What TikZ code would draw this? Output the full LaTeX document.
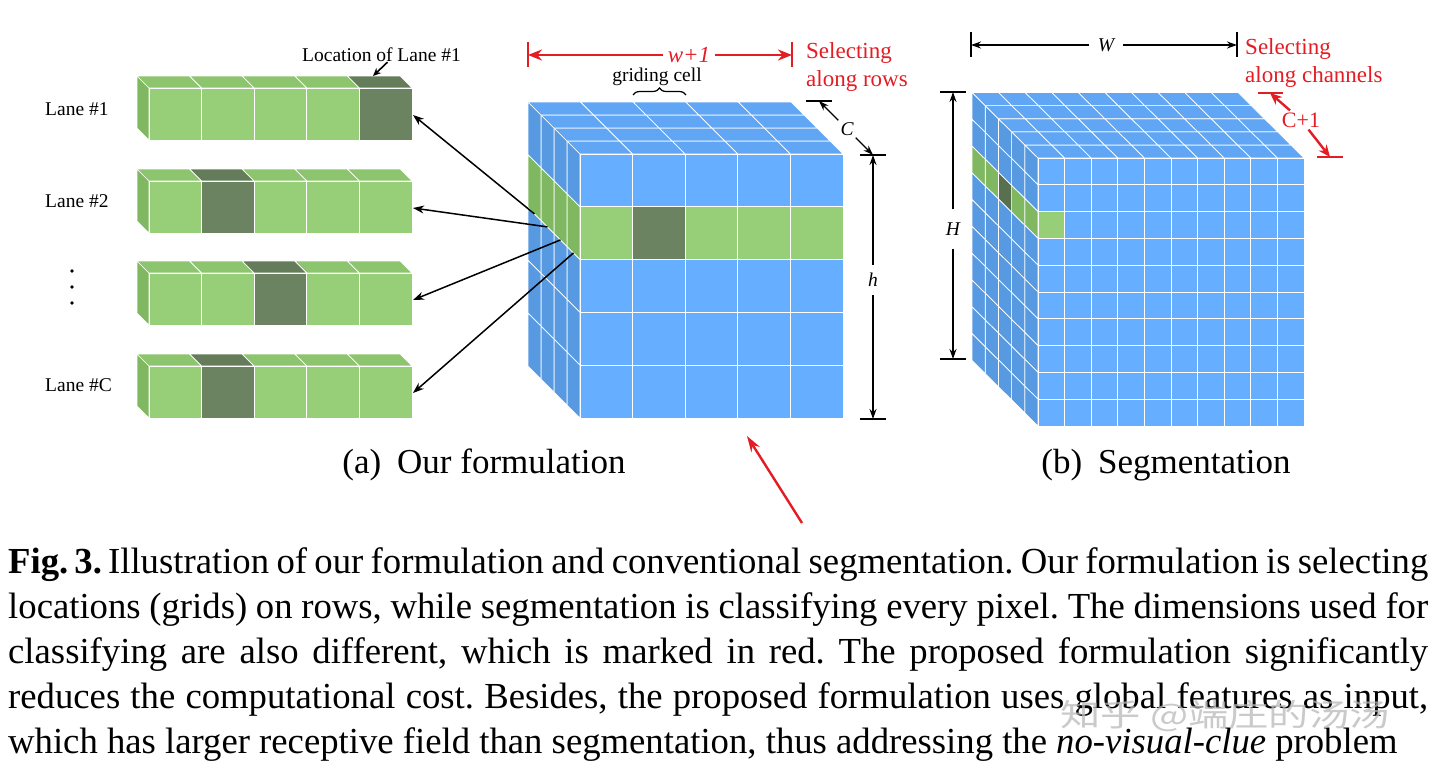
\documentclass[tikz,border=0pt]{standalone}
\usepackage{fontspec}
\setmainfont{Liberation Serif}
\newfontfamily\cjkfont{Noto Sans CJK SC}
\usetikzlibrary{arrows.meta,decorations.pathreplacing}
\definecolor{gfront}{RGB}{151,207,120}
\definecolor{gtop}{RGB}{141,196,110}
\definecolor{gside}{RGB}{128,184,98}
\definecolor{dfront}{RGB}{107,131,96}
\definecolor{dtop}{RGB}{100,124,90}
\definecolor{dside}{RGB}{88,112,80}
\definecolor{bfront}{RGB}{102,174,255}
\definecolor{btop}{RGB}{96,166,244}
\definecolor{bside}{RGB}{88,154,226}
\definecolor{red1}{RGB}{228,28,36}
\begin{document}
\begin{tikzpicture}[x=1pt,y=-1pt,
  cell/.style={draw=white, line width=0.7pt},
  conn/.style={-{Stealth[length=11pt,width=8pt]}, line width=1.5pt},
  dimk/.style={-{Stealth[length=10pt,width=7pt]}, line width=1.3pt},
  dimr/.style={red1,-{Stealth[length=14pt,width=11pt]}, line width=2.6pt},
  ktick/.style={line width=1.4pt},
  rtick/.style={red1, line width=2.6pt},
  lbl/.style={font=\fontsize{19.5}{23}\selectfont, inner sep=0pt},
  rlbl/.style={text=red1, font=\fontsize{23}{28.5}\selectfont, inner sep=0pt, align=left},
  sub/.style={font=\fontsize{35}{40}\selectfont, inner sep=0pt}]
\useasboundingbox (0,0) rectangle (1440,774);
\fill[white] (0,0) rectangle (1440,774);

% ---------- lanes ----------
\foreach \y/\dk [count=\i] in {88/4,181/1,273/2,366/1}{
  \filldraw[cell,fill=gside] (137,{\y-12}) -- (149,\y) -- (149,{\y+52}) -- (137,{\y+40}) -- cycle;
  \foreach \c in {0,...,4}{
    \ifnum\c=\dk\relax\def\fc{dfront}\def\tc{dtop}\else\def\fc{gfront}\def\tc{gtop}\fi
    \filldraw[cell,fill=\tc] ({149+\c*52.6-12},{\y-12}) -- ({149+(\c+1)*52.6-12},{\y-12}) -- ({149+(\c+1)*52.6},\y) -- ({149+\c*52.6},\y) -- cycle;
    \filldraw[cell,fill=\fc] ({149+\c*52.6},\y) rectangle ({149+(\c+1)*52.6},{\y+52});
  }
  \coordinate (lane\i) at (413,{\y+27});
}
\node[lbl,anchor=west] (lab1) at (45,109) {Lane \#1};
\node[lbl,anchor=west] (lab2) at (45,201) {Lane \#2};
\node[lbl,anchor=west] (labC) at (45,385) {Lane \#C};
\fill (72,271) circle (1.8);
\fill (72,287) circle (1.8);
\fill (72,303) circle (1.8);
\node[lbl] (loc) at (381.5,55) {Location of Lane \#1};
\coordinate (locpt) at (373,76);
\draw[-{Stealth[length=8pt,width=7pt]}, line width=1.6pt] ([xshift=6pt]loc.south) -- (locpt);

% ---------- middle cube ----------
\foreach \k in {0,...,3}{
  \foreach \r in {0,...,4}{
    \ifnum\r=1\relax\def\fc{gside}\else\def\fc{bside}\fi
    \filldraw[cell,fill=\fc] ({580-13*(\k+1)},{154+\r*52.8-13*(\k+1)}) -- ({580-13*\k},{154+\r*52.8-13*\k}) -- ({580-13*\k},{154+(\r+1)*52.8-13*\k}) -- ({580-13*(\k+1)},{154+(\r+1)*52.8-13*(\k+1)}) -- cycle;
  }
  \foreach \c in {0,...,4}{
    \filldraw[cell,fill=btop] ({580+\c*52.6-13*(\k+1)},{154-13*(\k+1)}) -- ({580+(\c+1)*52.6-13*(\k+1)},{154-13*(\k+1)}) -- ({580+(\c+1)*52.6-13*\k},{154-13*\k}) -- ({580+\c*52.6-13*\k},{154-13*\k}) -- cycle;
  }
}
\foreach \r in {0,...,4}{
  \foreach \c in {0,...,4}{
    \def\fc{bfront}
    \ifnum\r=1\relax\def\fc{gfront}\ifnum\c=1\relax\def\fc{dfront}\fi\fi
    \filldraw[cell,fill=\fc] ({580+\c*52.6},{154+\r*52.8}) rectangle ({580+(\c+1)*52.6},{154+(\r+1)*52.8});
  }
}
\coordinate (s1) at (534.5,213.9);
\coordinate (s2) at (547.5,226.9);
\coordinate (s3) at (560.5,239.9);
\coordinate (s4) at (573.5,252.9);
\draw[conn] (s1) -- (lane1);
\draw[conn] (s2) -- (lane2);
\draw[conn] (s3) -- (lane3);
\draw[conn] (s4) -- (lane4);

% griding cell
\node[lbl] (grid) at (657,77) {griding cell};
\coordinate (brl) at (633,95);
\coordinate (brr) at (686,95);
\draw[line width=1.2pt, decorate, decoration={brace, amplitude=7pt}] (brl) -- (brr);

% w+1
\node[text=red1, font=\fontsize{23}{28}\selectfont\itshape, inner sep=5pt] (wtxt) at (689,55) {w+1};
\coordinate (wl) at (528,55);
\coordinate (wr) at (792,55);
\draw[dimr] (wtxt) -- (wl);
\draw[dimr] (wtxt) -- (wr);
\draw[rtick] (528,42) -- (528,67);
\draw[rtick] (792,42) -- (792,67);
\node[rlbl,anchor=north west] (selr) at (806,42) {Selecting\\along rows};

% C and h
\node[lbl,font=\fontsize{19.5}{23}\selectfont\itshape, inner sep=2pt] (ctxt) at (847,129) {C};
\coordinate (ct) at (819,101);
\coordinate (cb) at (873,155);
\draw[dimk] (ctxt) -- (ct);
\draw[dimk] (ctxt) -- (cb);
\draw[ktick] (806,101) -- (832,101);
\draw[ktick] (860,155) -- (886,155);
\node[lbl,font=\fontsize{19.5}{23}\selectfont\itshape, inner sep=8pt] (htxt) at (873,280) {h};
\coordinate (hb) at (873,419);
\draw[dimk] (htxt) -- (cb);
\draw[dimk] (htxt) -- (hb);
\draw[ktick] (860,419) -- (886,419);

% red annotation arrow
\coordinate (ra1) at (802,523);
\coordinate (ra2) at (747,436);
\draw[red1, line width=2.4pt, -{Stealth[length=16pt,width=10pt]}] (ra1) -- (ra2);

% ---------- right cube ----------
\foreach \k in {0,...,4}{
  \foreach \r in {0,...,9}{
    \def\fc{bside}
    \ifnum\r=2\relax\def\fc{gside}\ifnum\k=2\relax\def\fc{dside}\fi\fi
    \filldraw[cell,fill=\fc] ({1038-13.2*(\k+1)},{158+\r*26.8-13.1*(\k+1)}) -- ({1038-13.2*\k},{158+\r*26.8-13.1*\k}) -- ({1038-13.2*\k},{158+(\r+1)*26.8-13.1*\k}) -- ({1038-13.2*(\k+1)},{158+(\r+1)*26.8-13.1*(\k+1)}) -- cycle;
  }
  \foreach \c in {0,...,9}{
    \filldraw[cell,fill=btop] ({1038+\c*26.6-13.2*(\k+1)},{158-13.1*(\k+1)}) -- ({1038+(\c+1)*26.6-13.2*(\k+1)},{158-13.1*(\k+1)}) -- ({1038+(\c+1)*26.6-13.2*\k},{158-13.1*\k}) -- ({1038+\c*26.6-13.2*\k},{158-13.1*\k}) -- cycle;
  }
}
\foreach \r in {0,...,9}{
  \foreach \c in {0,...,9}{
    \def\fc{bfront}
    \ifnum\r=2\relax\ifnum\c=0\relax\def\fc{gfront}\fi\fi
    \filldraw[cell,fill=\fc] ({1038+\c*26.6},{158+\r*26.8}) rectangle ({1038+(\c+1)*26.6},{158+(\r+1)*26.8});
  }
}

% W
\node[lbl,font=\fontsize{19.5}{23}\selectfont\itshape, inner sep=9pt] (wdim) at (1106,45) {W};
\coordinate (wdl) at (971,45);
\coordinate (wdr) at (1237,45);
\draw[dimk] (wdim) -- (wdl);
\draw[dimk] (wdim) -- (wdr);
\draw[ktick] (971,32) -- (971,57);
\draw[ktick] (1237,32) -- (1237,57);
\node[rlbl,anchor=north west] (selc) at (1245,38) {Selecting\\along channels};

% H
\node[lbl,font=\fontsize{19.5}{23}\selectfont\itshape, inner sep=13pt] (Htxt) at (953,229) {H};
\coordinate (Ht) at (953,92);
\coordinate (Hb) at (953,359);
\draw[dimk] (Htxt) -- (Ht);
\draw[dimk] (Htxt) -- (Hb);
\draw[ktick] (940,92) -- (966,92);
\draw[ktick] (940,359) -- (966,359);

% C+1
\node[text=red1, font=\fontsize{22}{26}\selectfont, inner sep=2pt] (c1txt) at (1301,120) {C+1};
\coordinate (c1t) at (1270,93);
\coordinate (c1b) at (1330,157);
\draw[red1, line width=2.4pt, -{Stealth[length=12pt,width=10pt]}] (c1txt) -- (c1t);
\draw[red1, line width=2.4pt, -{Stealth[length=12pt,width=10pt]}] (c1txt) -- (c1b);
\draw[rtick] (1258,93) -- (1283,93);
\draw[rtick] (1317,157) -- (1343,157);

% ---------- sub captions ----------
\node[sub,anchor=base] (suba) at (484,473) {(a)\hspace{16pt}Our formulation};
\node[sub,anchor=base] (subb) at (1166,473) {(b)\hspace{16pt}Segmentation};

% ---------- caption ----------
\node[anchor=north west, inner sep=0pt, text width=1420pt, align=justify,
      font=\fontsize{36.7}{45}\selectfont] (cap) at (8,547)
{\frenchspacing\hyphenpenalty=10000\tolerance=10000
\textbf{Fig.\,3.}\,Illustration of our formulation and conventional segmentation. Our formulation is selecting\linebreak
locations (grids) on rows, while segmentation is classifying every pixel. The dimensions used for\linebreak
classifying are also different, which is marked in red. The proposed formulation significantly\linebreak
reduces the computational cost. Besides, the proposed formulation uses global features as input,\linebreak
which has larger receptive field than segmentation, thus addressing the \textit{no-visual-clue} problem};

% watermark
\node[text=gray!55, opacity=0.75, font=\cjkfont\fontsize{31}{31}\selectfont, xscale=1.3] (wm) at (1225,716) {知乎 @端庄的汤汤};
\end{tikzpicture}
\end{document}
